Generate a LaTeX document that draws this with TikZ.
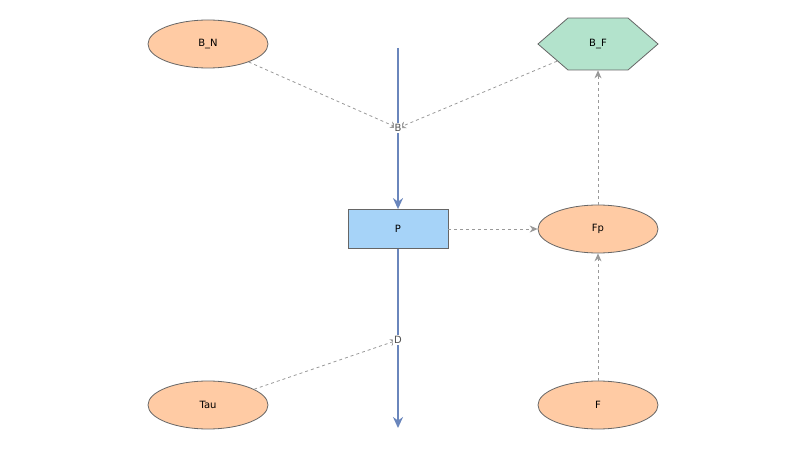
\documentclass[tikz,border=0pt]{standalone}
\usepackage{fontspec}
\setmainfont{DejaVu Sans}
\usetikzlibrary{shapes.geometric,arrows.meta}
\definecolor{ora}{HTML}{FFCBA4}
\definecolor{grn}{HTML}{B3E3CC}
\definecolor{blu}{HTML}{A6D3F8}
\definecolor{flow}{HTML}{6A86BC}
\definecolor{edg}{HTML}{666666}
\begin{document}
\begin{tikzpicture}[x=1pt,y=-1pt,font=\fontsize{10}{12}\selectfont,
 ell/.style={ellipse,draw=edg,fill=ora,thick,minimum width=120,minimum height=48,inner sep=0},
 hex/.style={regular polygon,regular polygon sides=6,shape border rotate=30,draw=edg,fill=grn,thick,minimum width=0,inner sep=0,minimum height=0,xscale=2.0,yscale=0.87,minimum size=60},
 dep/.style={draw=gray!80,dashed,thick,-{Stealth[length=8pt,width=7pt]}},
 fl/.style={draw=flow,line width=2.5pt,-{Stealth[length=11pt,width=10pt]}},
 lab/.style={fill=white,inner sep=1pt,text=edg!80!black}]
\useasboundingbox (0,0) rectangle (800,454);
\node[ell] (bn) at (208,44) {B\_N};
\node[draw=edg,fill=grn,thick,minimum width=120,minimum height=50,inner sep=0,
  regular polygon,regular polygon sides=6,shape border rotate=0,xscale=1.74,yscale=0.87,minimum size=69] (bf) at (598,44) {};
\node at (bf) {B\_F};
\node[ell] (fp) at (598,229) {Fp};
\node[ell] (tau) at (208,405) {Tau};
\node[ell] (f) at (598,405) {F};
\node[draw=edg,fill=blu,thick,minimum width=100,minimum height=39,inner sep=0] (p) at (398,229) {P};
\coordinate (top) at (398,48);
\coordinate (bot) at (398,428);
\coordinate (b) at (398,128);
\coordinate (d) at (398,340);
\draw[fl] (top) -- (p.north);
\draw[fl] (p.south) -- (bot);
\draw[dep] (bn) -- (b);
\draw[dep] (bf) -- (b);
\draw[dep] (tau) -- (d);
\draw[dep] (p) -- (fp);
\draw[dep] (fp) -- (bf);
\draw[dep] (f) -- (fp);
\node[lab] (bl) at (b) {B};
\node[lab] (dl) at (d) {D};
\end{tikzpicture}
\end{document}
